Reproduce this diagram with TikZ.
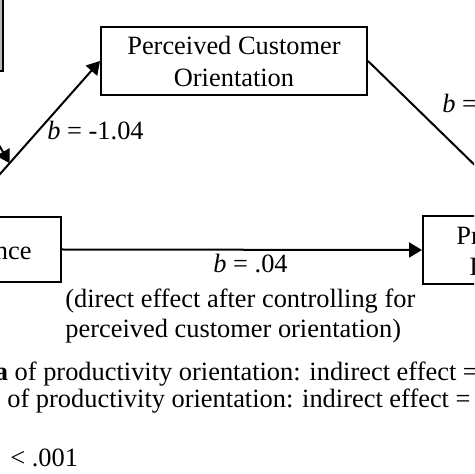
\documentclass[tikz,border=0pt]{standalone}
\usepackage{fontspec}
\setmainfont{Liberation Serif}
\usetikzlibrary{positioning,arrows.meta,calc}
\tikzset{
  medarr/.style={-{Triangle[length=6.5pt,width=7.5pt]},line width=1pt},
  varbox/.style={draw=black,line width=1pt,align=center,inner sep=0pt},
  lbl/.style={inner sep=0pt,anchor=base west}
}

\begin{document}
\begin{tikzpicture}[x=0.5pt,y=-0.5pt,every node/.style={font=\fontsize{13.2}{16}\selectfont}]
\useasboundingbox (0,0) rectangle (474,474);
\clip (0,0) rectangle (474,474);
% boxes
\node[varbox, fill=gray!55, minimum width=46.5pt, minimum height=45pt] (moder) at (-44,26) {};
\node[varbox, minimum width=133pt, minimum height=34pt] (med) at (234,61) {Perceived Customer\\Orientation};
\node[varbox, minimum width=80pt, minimum height=32.5pt] (pred) at (-19,249.5) {};
\node[varbox, minimum width=70pt, minimum height=34pt] (outc) at (493,250) {};
\node[lbl, anchor=base east] (predtxt) at (32,260) {nce};
\node[lbl] (outctxt1) at (456,245) {Pr};
\node[lbl] (outctxt2) at (469,276) {I};

% paths
\coordinate (astart) at (-38,217);
\coordinate (ahit) at ($(astart)!0.345!(med.west)$);
\coordinate (bend) at (527,216);
\draw[medarr] (astart) -- (med.west);
\draw[medarr] (moder.south) -- (ahit);
\draw[medarr] (med.east) -- (bend);
\draw[medarr] (pred.east) -- (outc.west);

% coefficients and notes
\node[lbl] (alab) at (47,140) {\textit{b} = -1.04};
\node[lbl] (blab) at (442,113) {\textit{b} =};
\node[lbl] (clab) at (213,273) {\textit{b} = .04};
\node[lbl] (note1) at (65,307) {(direct effect after controlling for};
\node[lbl] (note2) at (65,337) {perceived customer orientation)};
\node[lbl] (foot1) at (-5.5,380) {\textbf{a} of productivity orientation: indirect effect =};
\node[lbl] (foot2) at (7,407) {of productivity orientation: indirect effect =};
\node[lbl] (foot3) at (10,466) {< .001};
\end{tikzpicture}
\end{document}
